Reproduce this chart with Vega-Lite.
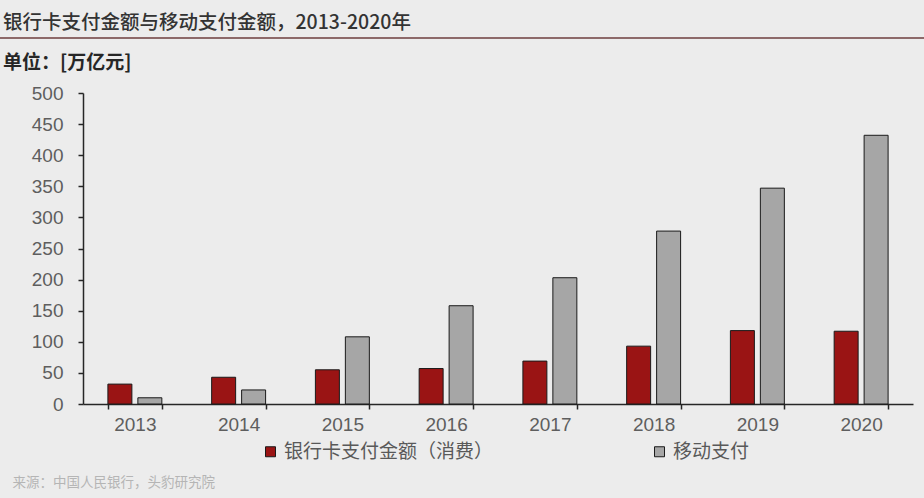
{
  "$schema": "https://vega.github.io/schema/vega-lite/v6.json",
  "autosize": "none",
  "width": 830,
  "height": 311,
  "padding": {"left": 83, "top": 93, "right": 11, "bottom": 94},
  "background": "#ececec",
  "config": {
    "view": {"stroke": null},
    "font": "Liberation Sans, Noto Sans CJK SC",
    "axis": {"grid": false}
  },
  "title": {
    "text": "银行卡支付金额与移动支付金额，2013-2020年",
    "subtitle": "单位：[万亿元]",
    "anchor": "start",
    "frame": "group",
    "dx": -80,
    "offset": -36,
    "fontSize": 19.5,
    "fontWeight": 500,
    "color": "#333333",
    "subtitleFontSize": 19,
    "subtitleFontWeight": "bold",
    "subtitleColor": "#262626",
    "subtitlePadding": 20,
    "font": "Noto Sans CJK SC",
    "subtitleFont": "Noto Sans CJK SC"
  },
  "data": {
    "values": [
      {"year": "2013", "series": "银行卡支付金额（消费）", "value": 32},
      {"year": "2013", "series": "移动支付", "value": 10},
      {"year": "2014", "series": "银行卡支付金额（消费）", "value": 43},
      {"year": "2014", "series": "移动支付", "value": 22.6},
      {"year": "2015", "series": "银行卡支付金额（消费）", "value": 55},
      {"year": "2015", "series": "移动支付", "value": 108},
      {"year": "2016", "series": "银行卡支付金额（消费）", "value": 57},
      {"year": "2016", "series": "移动支付", "value": 158},
      {"year": "2017", "series": "银行卡支付金额（消费）", "value": 69},
      {"year": "2017", "series": "移动支付", "value": 203},
      {"year": "2018", "series": "银行卡支付金额（消费）", "value": 93},
      {"year": "2018", "series": "移动支付", "value": 278},
      {"year": "2019", "series": "银行卡支付金额（消费）", "value": 118},
      {"year": "2019", "series": "移动支付", "value": 347},
      {"year": "2020", "series": "银行卡支付金额（消费）", "value": 117},
      {"year": "2020", "series": "移动支付", "value": 432}
    ]
  },
  "layer": [
    {
      "mark": {"type": "rule", "color": "#8c6b6b", "strokeWidth": 1, "clip": false},
      "encoding": {
        "y": {
          "datum": 588,
          "type": "quantitative",
          "scale": {"domain": [0, 500], "nice": false},
          "axis": {
            "title": null,
            "values": [0, 50, 100, 150, 200, 250, 300, 350, 400, 450, 500],
            "labelOverlap": false,
            "labelFontSize": 19,
            "labelColor": "#5e5e5e",
            "labelPadding": 15,
            "tickSize": 5,
            "tickColor": "#262626",
            "domainColor": "#262626",
            "domainWidth": 1.5,
            "tickWidth": 1.5
          }
        },
        "x": {"value": -83},
        "x2": {"value": 841}
      }
    },
    {
      "mark": {"type": "bar", "stroke": "#1a1a1a", "strokeWidth": 1},
      "encoding": {
        "x": {
          "field": "year",
          "type": "nominal",
          "scale": {"paddingInner": 0.48, "paddingOuter": 0.24},
          "axis": {
            "title": "来源：中国人民银行，头豹研究院",
            "titleX": -71,
            "titleY": 82,
            "titleAlign": "left",
            "titleAnchor": null,
            "titleBaseline": "alphabetic",
            "titleFontSize": 13.5,
            "titleFontWeight": "normal",
            "titleColor": "#b5b5b5",
            "titleFont": "Noto Sans CJK SC",
            "labelAngle": 0,
            "labelFontSize": 19,
            "labelColor": "#5e5e5e",
            "labelPadding": 6,
            "tickBand": "extent",
            "tickSize": 5,
            "tickColor": "#262626",
            "domainColor": "#262626",
            "domainWidth": 1.5,
            "tickWidth": 1.5
          }
        },
        "xOffset": {
          "field": "series",
          "sort": ["银行卡支付金额（消费）", "移动支付"],
          "scale": {"paddingInner": 0.2, "paddingOuter": 0}
        },
        "y": {
          "field": "value",
          "type": "quantitative",
          "scale": {"domain": [0, 500], "nice": false},
          "axis": {
            "title": null,
            "values": [0, 50, 100, 150, 200, 250, 300, 350, 400, 450, 500],
            "labelOverlap": false,
            "labelFontSize": 19,
            "labelColor": "#5e5e5e",
            "labelPadding": 15,
            "tickSize": 5,
            "tickColor": "#262626",
            "domainColor": "#262626",
            "domainWidth": 1.5,
            "tickWidth": 1.5
          }
        },
        "color": {
          "field": "series",
          "type": "nominal",
          "scale": {
            "domain": ["银行卡支付金额（消费）", "移动支付"],
            "range": ["#9a1414", "#a6a6a6"]
          },
          "legend": {
            "title": null,
            "orient": "none",
            "legendX": 178,
            "legendY": 349,
            "direction": "horizontal",
            "symbolType": "square",
            "symbolSize": 100,
            "symbolStrokeColor": "#1a1a1a",
            "symbolStrokeWidth": 1,
            "symbolOpacity": 1,
            "labelFontSize": 19,
            "labelColor": "#595959",
            "labelFont": "Noto Sans CJK SC",
            "labelOffset": 4,
            "labelLimit": 400,
            "columnPadding": 156
          }
        }
      }
    }
  ]
}
